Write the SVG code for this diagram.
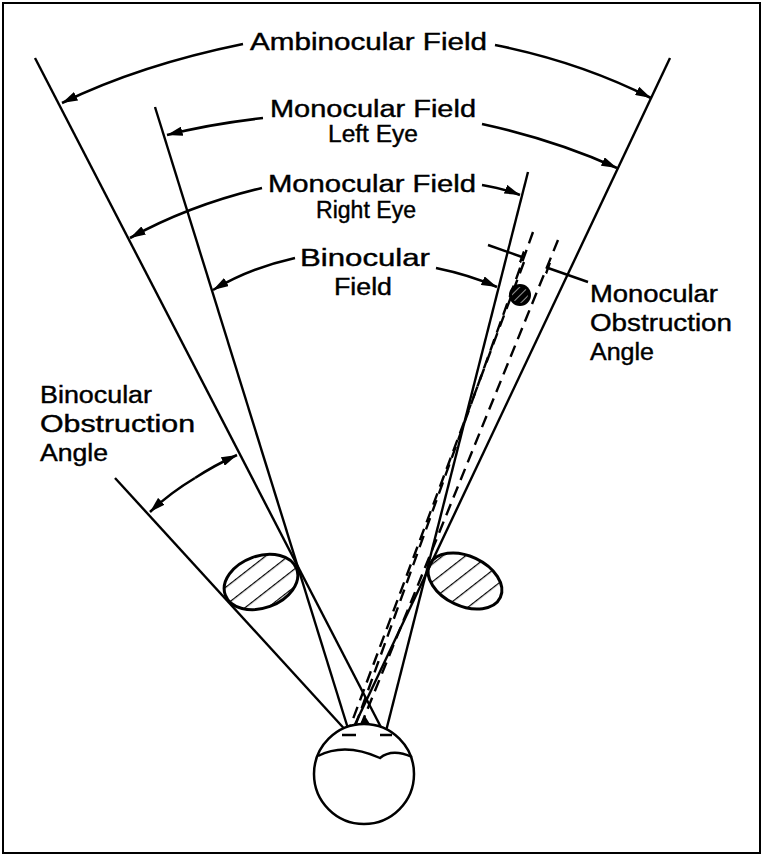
<svg xmlns="http://www.w3.org/2000/svg" width="764" height="857" viewBox="0 0 764 857">
<style>
.l{stroke:#000;stroke-width:2.4;fill:none}
.d{stroke:#000;stroke-width:2.4;fill:none;stroke-dasharray:12 7}
.a{stroke:#000;stroke-width:2.6;fill:none;marker-end:url(#ah)}
text{font-family:"Liberation Sans",Arial,sans-serif;font-size:23px;fill:#000;stroke:#000;stroke-width:0.4}
</style>
<defs>
<marker id="ah" viewBox="0 0 10 6" refX="10" refY="3" markerWidth="6" markerHeight="3.6" orient="auto" markerUnits="strokeWidth"><path d="M0,0 L10,3 L0,6 z" fill="#000"/></marker>
<marker id="bar" viewBox="0 0 4 10" refX="2" refY="5" markerWidth="2" markerHeight="5" orient="auto" markerUnits="strokeWidth"><path d="M2,0 V10" stroke="#000" stroke-width="2"/></marker>
<pattern id="hatchL" width="14" height="14" patternUnits="userSpaceOnUse" patternTransform="rotate(72)"><path d="M0,0 V14" stroke="#000" stroke-width="2.4"/></pattern>
<pattern id="hatchR" width="14" height="14" patternUnits="userSpaceOnUse" patternTransform="rotate(27)"><path d="M0,0 V14" stroke="#000" stroke-width="2.4"/></pattern>
<pattern id="hw" width="6" height="6" patternUnits="userSpaceOnUse" patternTransform="rotate(45)"><path d="M0,0 V6" stroke="#fff" stroke-width="1.2"/></pattern>
</defs>
<rect x="3" y="3" width="757" height="850" fill="none" stroke="#000" stroke-width="2"/>
<g id="connectors">
<path class="l" d="M35,58 L385,735"/>
<path class="l" d="M155,107 L350,735"/>
<path class="l" d="M670,58 L350,735"/>
<path class="l" d="M528,172 L385,735"/>
<path class="l" d="M115,478 L350,735"/>
<path class="d" d="M533,232 L352,735"/>
<path class="d" d="M558,240 L357,735"/>
<path class="d" d="M524,262 L347,735"/>
<path class="a" d="M243,44 Q140,65 62,103"/>
<path class="a" d="M495,45 Q580,62 651,98"/>
<path class="a" d="M263,118 Q210,124 167,135"/>
<path class="a" d="M482,124 Q555,140 617,168"/>
<path class="a" d="M262,188 Q190,205 130,238"/>
<path class="a" d="M482,185 Q505,189 520,195"/>
<path class="a" d="M295,258 Q250,268 213,290"/>
<path class="a" d="M436,268 Q470,275 497,287"/>
<path class="a" d="M195,478 Q215,465 237,455"/>
<path class="a" d="M195,478 Q170,493 150,512"/>
<path class="l" d="M488,245 L522,257" marker-end="url(#bar)"/>
<path class="l" d="M588,282 L548,268" marker-end="url(#bar)"/>
</g>
<g id="obstructions">
<ellipse cx="261" cy="582" rx="38" ry="26" transform="rotate(-20 261 582)" fill="url(#hatchL)" stroke="#000" stroke-width="3"/>
<ellipse cx="465" cy="581" rx="39" ry="25" transform="rotate(25 465 581)" fill="url(#hatchR)" stroke="#000" stroke-width="3"/>
<circle cx="520" cy="295" r="11" fill="#000"/>
<circle cx="520" cy="295" r="8" fill="url(#hw)"/>
</g>
<g id="eye">
<circle cx="364" cy="774" r="50" fill="#fff" stroke="#000" stroke-width="2.5"/>
<path class="l" stroke-width="2.5" d="M318,756 Q345,742 380,758 Q392,748 412,757"/>
<path class="l" stroke-width="3" d="M342,735 H356 M380,735 H392"/>
<path d="M360,724 L370,724 L365,716 z" fill="#000"/>
</g>
<g id="labels">
<text x="250" y="50" textLength="237" lengthAdjust="spacingAndGlyphs">Ambinocular Field</text>
<text x="270" y="117" textLength="206" lengthAdjust="spacingAndGlyphs">Monocular Field</text>
<text x="328" y="142" textLength="90" lengthAdjust="spacingAndGlyphs">Left Eye</text>
<text x="316" y="218" textLength="100" lengthAdjust="spacingAndGlyphs">Right Eye</text>
<text x="268" y="192" textLength="208" lengthAdjust="spacingAndGlyphs">Monocular Field</text>
<text x="300" y="266" textLength="130" lengthAdjust="spacingAndGlyphs">Binocular</text>
<text x="334" y="295" textLength="58" lengthAdjust="spacingAndGlyphs">Field</text>
<text x="40" y="403" textLength="112" lengthAdjust="spacingAndGlyphs">Binocular</text>
<text x="40" y="432" textLength="155" lengthAdjust="spacingAndGlyphs">Obstruction</text>
<text x="40" y="461" textLength="68" lengthAdjust="spacingAndGlyphs">Angle</text>
<text x="590" y="302" textLength="128" lengthAdjust="spacingAndGlyphs">Monocular</text>
<text x="590" y="331" textLength="142" lengthAdjust="spacingAndGlyphs">Obstruction</text>
<text x="590" y="360" textLength="64" lengthAdjust="spacingAndGlyphs">Angle</text>
</g>
</svg>
